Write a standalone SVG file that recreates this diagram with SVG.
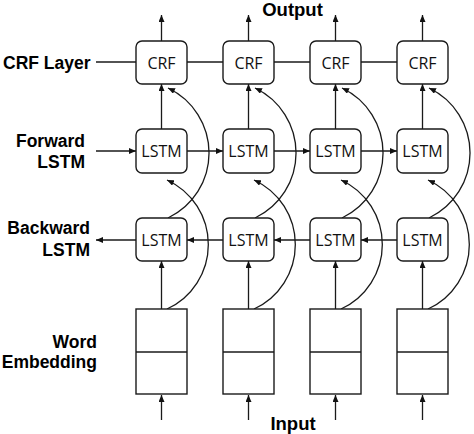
<svg xmlns="http://www.w3.org/2000/svg" width="474" height="434" viewBox="0 0 474 434">
<defs>
<marker id="ah" markerUnits="userSpaceOnUse" markerWidth="8" markerHeight="6" refX="7" refY="3" orient="auto">
<path d="M0,0 L7,3 L0,6 z" fill="#111"/>
</marker>
<style>
.box{fill:#fff;stroke:#1a1a1a;stroke-width:1.4}
.ln{fill:none;stroke:#1a1a1a;stroke-width:1.3}
.ar{fill:none;stroke:#1a1a1a;stroke-width:1.3;marker-end:url(#ah)}
.bt{font-family:"Open Sans","Noto Sans",sans-serif;font-size:16px;fill:#111;text-anchor:middle}
.lb{font-family:"Liberation Sans",Arial,sans-serif;font-weight:bold;font-size:17.5px;fill:#000}
</style>
</defs>
<rect width="474" height="434" fill="#fff"/>

<g id="connectors">
<line class="ar" x1="161.5" y1="41" x2="161.5" y2="15"/>
<line class="ar" x1="248.5" y1="41" x2="248.5" y2="15"/>
<line class="ar" x1="335.5" y1="41" x2="335.5" y2="15"/>
<line class="ar" x1="422.5" y1="41" x2="422.5" y2="15"/>
<line class="ln" x1="96" y1="62" x2="136" y2="62"/>
<line class="ln" x1="187" y1="62" x2="223" y2="62"/>
<line class="ln" x1="274" y1="62" x2="310" y2="62"/>
<line class="ln" x1="361" y1="62" x2="397" y2="62"/>
<line class="ar" x1="96" y1="151" x2="136" y2="151"/>
<line class="ar" x1="187" y1="151" x2="223" y2="151"/>
<line class="ar" x1="274" y1="151" x2="310" y2="151"/>
<line class="ar" x1="361" y1="151" x2="397" y2="151"/>
<line class="ar" x1="136" y1="240" x2="96" y2="240"/>
<line class="ar" x1="223" y1="240" x2="187" y2="240"/>
<line class="ar" x1="310" y1="240" x2="274" y2="240"/>
<line class="ar" x1="397" y1="240" x2="361" y2="240"/>
<line class="ar" x1="161.5" y1="129" x2="161.5" y2="84"/>
<line class="ar" x1="248.5" y1="129" x2="248.5" y2="84"/>
<line class="ar" x1="335.5" y1="129" x2="335.5" y2="84"/>
<line class="ar" x1="422.5" y1="129" x2="422.5" y2="84"/>
<line class="ar" x1="161.5" y1="309" x2="161.5" y2="261"/>
<line class="ar" x1="248.5" y1="309" x2="248.5" y2="261"/>
<line class="ar" x1="335.5" y1="309" x2="335.5" y2="261"/>
<line class="ar" x1="422.5" y1="309" x2="422.5" y2="261"/>
<line class="ar" x1="161.5" y1="420" x2="161.5" y2="395"/>
<line class="ar" x1="248.5" y1="420" x2="248.5" y2="395"/>
<line class="ar" x1="335.5" y1="420" x2="335.5" y2="395"/>
<line class="ar" x1="422.5" y1="420" x2="422.5" y2="395"/>
<path class="ar" d="M168,218 A72,72 0 0 0 168,88"/>
<path class="ar" d="M255,218 A72,72 0 0 0 255,88"/>
<path class="ar" d="M342,218 A72,72 0 0 0 342,88"/>
<path class="ar" d="M429,218 A72,72 0 0 0 429,88"/>
<path class="ar" d="M167,309 A71,71 0 0 0 167,180"/>
<path class="ar" d="M254,309 A71,71 0 0 0 254,180"/>
<path class="ar" d="M341,309 A71,71 0 0 0 341,180"/>
<path class="ar" d="M428,309 A71,71 0 0 0 428,180"/>
</g>

<g id="crf1"><rect class="box" x="136" y="41" width="51" height="43" rx="6"/><text class="bt" x="161.5" y="69">CRF</text></g>
<g id="crf2"><rect class="box" x="223" y="41" width="51" height="43" rx="6"/><text class="bt" x="248.5" y="69">CRF</text></g>
<g id="crf3"><rect class="box" x="310" y="41" width="51" height="43" rx="6"/><text class="bt" x="335.5" y="69">CRF</text></g>
<g id="crf4"><rect class="box" x="397" y="41" width="51" height="43" rx="6"/><text class="bt" x="422.5" y="69">CRF</text></g>

<g id="flstm1"><rect class="box" x="136" y="129" width="51" height="44" rx="6"/><text class="bt" x="161.5" y="157">LSTM</text></g>
<g id="flstm2"><rect class="box" x="223" y="129" width="51" height="44" rx="6"/><text class="bt" x="248.5" y="157">LSTM</text></g>
<g id="flstm3"><rect class="box" x="310" y="129" width="51" height="44" rx="6"/><text class="bt" x="335.5" y="157">LSTM</text></g>
<g id="flstm4"><rect class="box" x="397" y="129" width="51" height="44" rx="6"/><text class="bt" x="422.5" y="157">LSTM</text></g>

<g id="blstm1"><rect class="box" x="136" y="218" width="51" height="43" rx="6"/><text class="bt" x="161.5" y="246">LSTM</text></g>
<g id="blstm2"><rect class="box" x="223" y="218" width="51" height="43" rx="6"/><text class="bt" x="248.5" y="246">LSTM</text></g>
<g id="blstm3"><rect class="box" x="310" y="218" width="51" height="43" rx="6"/><text class="bt" x="335.5" y="246">LSTM</text></g>
<g id="blstm4"><rect class="box" x="397" y="218" width="51" height="43" rx="6"/><text class="bt" x="422.5" y="246">LSTM</text></g>

<g id="emb1"><rect class="box" x="136" y="309" width="51" height="85"/><line class="ln" x1="136" y1="352" x2="187" y2="352"/></g>
<g id="emb2"><rect class="box" x="223" y="309" width="51" height="85"/><line class="ln" x1="223" y1="352" x2="274" y2="352"/></g>
<g id="emb3"><rect class="box" x="310" y="309" width="51" height="85"/><line class="ln" x1="310" y1="352" x2="361" y2="352"/></g>
<g id="emb4"><rect class="box" x="397" y="309" width="51" height="85"/><line class="ln" x1="397" y1="352" x2="448" y2="352"/></g>

<g id="labels">
<text class="lb" x="292.5" y="16" text-anchor="middle" style="font-size:18.5px">Output</text>
<text class="lb" x="3" y="69">CRF Layer</text>
<text class="lb" x="85" y="147" text-anchor="end">Forward</text>
<text class="lb" x="85" y="168" text-anchor="end">LSTM</text>
<text class="lb" x="90" y="234" text-anchor="end">Backward</text>
<text class="lb" x="90" y="256" text-anchor="end">LSTM</text>
<text class="lb" x="97" y="348" text-anchor="end">Word</text>
<text class="lb" x="97" y="368" text-anchor="end">Embedding</text>
<text class="lb" x="293" y="430" text-anchor="middle" style="font-size:18.5px">Input</text>
</g>
</svg>
